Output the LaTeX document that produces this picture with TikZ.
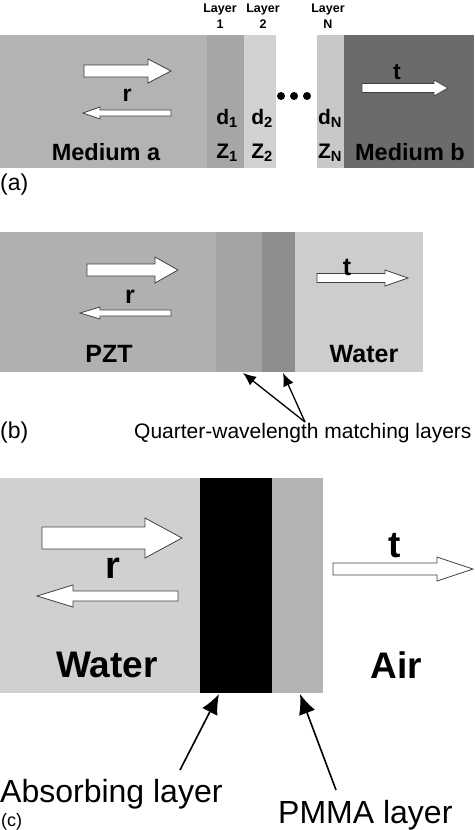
\documentclass[tikz,border=0pt]{standalone}
\usepackage{fontspec}
\setmainfont{Liberation Sans}
\usetikzlibrary{arrows.meta}
\definecolor{meda}{HTML}{B3B3B3}
\definecolor{layone}{HTML}{A6A6A6}
\definecolor{laytwo}{HTML}{D2D2D2}
\definecolor{layn}{HTML}{C8C8C8}
\definecolor{medb}{HTML}{6B6B6B}
\definecolor{pzt}{HTML}{B0B0B0}
\definecolor{qwone}{HTML}{A4A4A4}
\definecolor{qwtwo}{HTML}{8E8E8E}
\definecolor{waterb}{HTML}{CDCDCD}
\definecolor{waterc}{HTML}{D0D0D0}
\definecolor{pmma}{HTML}{B4B4B4}
\newcommand\blkarrow[6]{\filldraw[blk] (#1,#4-#5) -- (#2,#4-#5) -- (#2,#4-#6) -- (#3,#4) -- (#2,#4+#6) -- (#2,#4+#5) -- (#1,#4+#5) -- cycle;}
\tikzset{
  blk/.style={fill=white, draw=black!75, line width=0.8pt},
  bl/.style={font=\bfseries\fontsize{#1}{#1}\selectfont, inner sep=0pt},
  rl/.style={font=\fontsize{#1}{#1}\selectfont, inner sep=0pt},
  ptr/.style={-{Latex[length=13pt,width=11pt]}, line width=1.3pt},
  bigptr/.style={-{Latex[length=20pt,width=17pt]}, line width=1.6pt},
}
\begin{document}
\begin{tikzpicture}[x=1pt,y=-1pt]
\useasboundingbox (0,0) rectangle (474,830);
% ---------- panel (a) ----------
\fill[meda] (0,35) rectangle (207,168);
\fill[layone] (207,35) rectangle (244,168);
\fill[laytwo] (244,35) rectangle (276,168);
\fill[layn] (317,35) rectangle (344,168);
\fill[medb] (344,35) rectangle (474,168);
\node[bl=12.5, align=center] (l1) at (220,16) {Layer\\[3pt]1};
\node[bl=12.5, align=center] (l2) at (263,16) {Layer\\[3pt]2};
\node[bl=12.5, align=center] (ln) at (328,16) {Layer\\[3pt]N};
\fill (281,96) circle (4) (294,96) circle (4) (307,96) circle (4);
\blkarrow{84}{148}{171}{71}{6}{12}
\blkarrow{171}{100}{83}{113}{3}{6}
\blkarrow{362}{434}{448}{88}{4.5}{8}
\node[bl=23] (ra) at (127,95) {r};
\node[bl=23] (ta) at (397,72) {t};
\node[bl=21] (d1) at (227,118) {d\textsubscript{1}};
\node[bl=21] (d2) at (262,118) {d\textsubscript{2}};
\node[bl=21] (dn) at (330,118) {d\textsubscript{N}};
\node[bl=21] (z1) at (227,153) {Z\textsubscript{1}};
\node[bl=21] (z2) at (262,153) {Z\textsubscript{2}};
\node[bl=21] (zn) at (330,153) {Z\textsubscript{N}};
\node[bl=23.5] (ma) at (106,152) {Medium a};
\node[bl=23.5] (mb) at (410,152) {Medium b};
\node[rl=23, anchor=west] (pa) at (0,185) {(a)};
% ---------- panel (b) ----------
\fill[pzt] (0,232) rectangle (216,372);
\fill[qwone] (216,232) rectangle (262,372);
\fill[qwtwo] (262,232) rectangle (295,372);
\fill[waterb] (295,232) rectangle (423,372);
\blkarrow{87}{155}{178}{270}{6}{13}
\blkarrow{171}{100}{80}{313}{3}{6}
\blkarrow{317}{385}{408}{278}{4.5}{8}
\node[bl=25] (rb) at (130,297) {r};
\node[bl=25] (tb) at (347,267) {t};
\node[bl=25] (pzt) at (109,354) {PZT};
\node[bl=25] (wb) at (364,354) {Water};
\node[rl=23, anchor=west] (pb) at (0,433) {(b)};
\node[rl=21, anchor=west] (qw) at (134,433) {Quarter-wavelength matching layers};
\coordinate (qwtop) at (305,422);
\coordinate (qa) at (243,373);
\coordinate (qb) at (283,373);
\draw[ptr] (qwtop) -- (qa);
\draw[ptr] (qwtop) -- (qb);
% ---------- panel (c) ----------
\fill[waterc] (0,478) rectangle (200,693);
\fill[black] (200,478) rectangle (272,693);
\fill[pmma] (272,478) rectangle (323,693);
\blkarrow{42}{145}{182}{538}{11}{20}
\blkarrow{178}{73}{37}{596}{5}{11}
\blkarrow{333}{437}{473}{569}{6}{12}
\node[bl=38] (rc) at (113,568) {r};
\node[bl=37] (tc) at (395,546) {t};
\node[bl=37] (wc) at (107,665) {Water};
\node[bl=37] (air) at (396,665) {Air};
\node[rl=32, anchor=west] (abs) at (0,794) {Absorbing layer};
\node[rl=32, anchor=west] (pm) at (278,815) {PMMA layer};
\node[rl=18, anchor=west] (pc) at (1,822) {(c)};
\coordinate (absfrom) at (180,770);
\coordinate (absto) at (219,694);
\coordinate (pmfrom) at (336,790);
\coordinate (pmto) at (300,694);
\draw[bigptr] (absfrom) -- (absto);
\draw[bigptr] (pmfrom) -- (pmto);
\end{tikzpicture}
\end{document}
